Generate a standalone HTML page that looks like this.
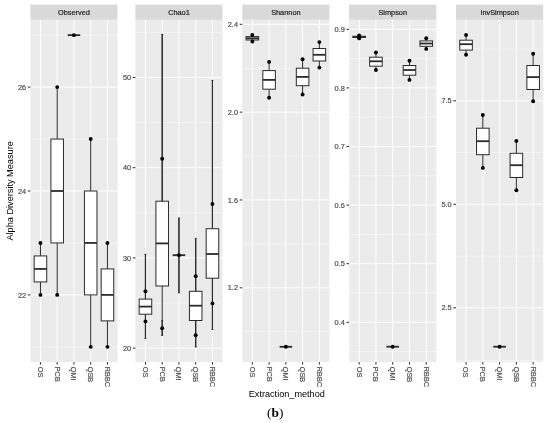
<!DOCTYPE html>
<html lang="en">
<head>
<meta charset="utf-8">
<title>Alpha Diversity Measure by Extraction_method</title>
<style>
html,body{margin:0;padding:0;background:#fff;}
body{width:550px;height:423px;overflow:hidden;}
svg{display:block;}
</style>
</head>
<body>
<svg width="550" height="423" viewBox="0 0 550 423" font-family="'Liberation Sans', Arial, Helvetica, sans-serif">
<rect x="0" y="0" width="550" height="423" fill="#ffffff"/>
<g>
<rect x="30.4" y="4.6" width="87.1" height="15.25" fill="#d9d9d9"/>
<text x="73.95" y="15" font-size="7.35" fill="#1a1a1a" stroke="#1a1a1a" stroke-width="0.18" text-anchor="middle">Observed</text>
<rect x="30.4" y="19.85" width="87.1" height="342.25" fill="#ebebeb"/>
<line x1="30.4" x2="117.5" y1="346.85" y2="346.85" stroke="#fff" stroke-width="0.5"/>
<line x1="30.4" x2="117.5" y1="242.95" y2="242.95" stroke="#fff" stroke-width="0.5"/>
<line x1="30.4" x2="117.5" y1="139.05" y2="139.05" stroke="#fff" stroke-width="0.5"/>
<line x1="30.4" x2="117.5" y1="35.15" y2="35.15" stroke="#fff" stroke-width="0.5"/>
<line x1="30.4" x2="117.5" y1="294.9" y2="294.9" stroke="#fff" stroke-width="1.0"/>
<line x1="30.4" x2="117.5" y1="191" y2="191" stroke="#fff" stroke-width="1.0"/>
<line x1="30.4" x2="117.5" y1="87.1" y2="87.1" stroke="#fff" stroke-width="1.0"/>
<line x1="40.45" x2="40.45" y1="19.85" y2="362.1" stroke="#fff" stroke-width="1.0"/>
<line x1="57.2" x2="57.2" y1="19.85" y2="362.1" stroke="#fff" stroke-width="1.0"/>
<line x1="73.95" x2="73.95" y1="19.85" y2="362.1" stroke="#fff" stroke-width="1.0"/>
<line x1="90.7" x2="90.7" y1="19.85" y2="362.1" stroke="#fff" stroke-width="1.0"/>
<line x1="107.45" x2="107.45" y1="19.85" y2="362.1" stroke="#fff" stroke-width="1.0"/>
<line x1="27.8" x2="30.4" y1="294.9" y2="294.9" stroke="#2b2b2b" stroke-width="1.0"/>
<text x="26.1" y="297.55" font-size="7.35" fill="#4d4d4d" stroke="#4d4d4d" stroke-width="0.18" text-anchor="end">22</text>
<line x1="27.8" x2="30.4" y1="191" y2="191" stroke="#2b2b2b" stroke-width="1.0"/>
<text x="26.1" y="193.65" font-size="7.35" fill="#4d4d4d" stroke="#4d4d4d" stroke-width="0.18" text-anchor="end">24</text>
<line x1="27.8" x2="30.4" y1="87.1" y2="87.1" stroke="#2b2b2b" stroke-width="1.0"/>
<text x="26.1" y="89.75" font-size="7.35" fill="#4d4d4d" stroke="#4d4d4d" stroke-width="0.18" text-anchor="end">26</text>
<line x1="40.45" x2="40.45" y1="362.1" y2="364.6" stroke="#2b2b2b" stroke-width="1.0"/>
<text transform="translate(37.85 366.7) rotate(90)" font-size="7.35" fill="#4d4d4d" stroke="#4d4d4d" stroke-width="0.18">OS</text>
<line x1="57.2" x2="57.2" y1="362.1" y2="364.6" stroke="#2b2b2b" stroke-width="1.0"/>
<text transform="translate(54.6 366.7) rotate(90)" font-size="7.35" fill="#4d4d4d" stroke="#4d4d4d" stroke-width="0.18">PCB</text>
<line x1="73.95" x2="73.95" y1="362.1" y2="364.6" stroke="#2b2b2b" stroke-width="1.0"/>
<text transform="translate(71.35 366.7) rotate(90)" font-size="7.35" fill="#4d4d4d" stroke="#4d4d4d" stroke-width="0.18">QMI</text>
<line x1="90.7" x2="90.7" y1="362.1" y2="364.6" stroke="#2b2b2b" stroke-width="1.0"/>
<text transform="translate(88.1 366.7) rotate(90)" font-size="7.35" fill="#4d4d4d" stroke="#4d4d4d" stroke-width="0.18">QSB</text>
<line x1="107.45" x2="107.45" y1="362.1" y2="364.6" stroke="#2b2b2b" stroke-width="1.0"/>
<text transform="translate(104.85 366.7) rotate(90)" font-size="7.35" fill="#4d4d4d" stroke="#4d4d4d" stroke-width="0.18">RBBC</text>
<line x1="40.45" x2="40.45" y1="242.95" y2="255.94" stroke="#2b2b2b" stroke-width="1.0"/>
<line x1="40.45" x2="40.45" y1="281.91" y2="294.9" stroke="#2b2b2b" stroke-width="1.0"/>
<rect x="34.17" y="255.94" width="12.56" height="25.98" fill="#fff" stroke="#2b2b2b" stroke-width="1.0"/>
<line x1="34.17" x2="46.73" y1="268.93" y2="268.93" stroke="#2b2b2b" stroke-width="1.8"/>
<circle cx="40.45" cy="242.95" r="1.95" fill="#000"/>
<circle cx="40.45" cy="294.9" r="1.95" fill="#000"/>
<line x1="57.2" x2="57.2" y1="87.1" y2="139.05" stroke="#2b2b2b" stroke-width="1.0"/>
<line x1="57.2" x2="57.2" y1="242.95" y2="294.9" stroke="#2b2b2b" stroke-width="1.0"/>
<rect x="50.92" y="139.05" width="12.56" height="103.9" fill="#fff" stroke="#2b2b2b" stroke-width="1.0"/>
<line x1="50.92" x2="63.48" y1="191" y2="191" stroke="#2b2b2b" stroke-width="1.8"/>
<circle cx="57.2" cy="87.1" r="1.95" fill="#000"/>
<circle cx="57.2" cy="294.9" r="1.95" fill="#000"/>
<line x1="67.67" x2="80.23" y1="35.15" y2="35.15" stroke="#2b2b2b" stroke-width="1.8"/>
<circle cx="73.95" cy="35.15" r="1.95" fill="#000"/>
<line x1="90.7" x2="90.7" y1="139.05" y2="191" stroke="#2b2b2b" stroke-width="1.0"/>
<line x1="90.7" x2="90.7" y1="294.9" y2="346.85" stroke="#2b2b2b" stroke-width="1.0"/>
<rect x="84.42" y="191" width="12.56" height="103.9" fill="#fff" stroke="#2b2b2b" stroke-width="1.0"/>
<line x1="84.42" x2="96.98" y1="242.95" y2="242.95" stroke="#2b2b2b" stroke-width="1.8"/>
<circle cx="90.7" cy="139.05" r="1.95" fill="#000"/>
<circle cx="90.7" cy="346.85" r="1.95" fill="#000"/>
<line x1="107.45" x2="107.45" y1="242.95" y2="268.93" stroke="#2b2b2b" stroke-width="1.0"/>
<line x1="107.45" x2="107.45" y1="320.88" y2="346.85" stroke="#2b2b2b" stroke-width="1.0"/>
<rect x="101.17" y="268.93" width="12.56" height="51.95" fill="#fff" stroke="#2b2b2b" stroke-width="1.0"/>
<line x1="101.17" x2="113.73" y1="294.9" y2="294.9" stroke="#2b2b2b" stroke-width="1.8"/>
<circle cx="107.45" cy="242.95" r="1.95" fill="#000"/>
<circle cx="107.45" cy="346.85" r="1.95" fill="#000"/>
</g>
<g>
<rect x="135.4" y="4.6" width="87.1" height="15.25" fill="#d9d9d9"/>
<text x="178.95" y="15" font-size="7.35" fill="#1a1a1a" stroke="#1a1a1a" stroke-width="0.18" text-anchor="middle">Chao1</text>
<rect x="135.4" y="19.85" width="87.1" height="342.25" fill="#ebebeb"/>
<line x1="135.4" x2="222.5" y1="303" y2="303" stroke="#fff" stroke-width="0.5"/>
<line x1="135.4" x2="222.5" y1="212.8" y2="212.8" stroke="#fff" stroke-width="0.5"/>
<line x1="135.4" x2="222.5" y1="122.6" y2="122.6" stroke="#fff" stroke-width="0.5"/>
<line x1="135.4" x2="222.5" y1="32.4" y2="32.4" stroke="#fff" stroke-width="0.5"/>
<line x1="135.4" x2="222.5" y1="348.1" y2="348.1" stroke="#fff" stroke-width="1.0"/>
<line x1="135.4" x2="222.5" y1="257.9" y2="257.9" stroke="#fff" stroke-width="1.0"/>
<line x1="135.4" x2="222.5" y1="167.7" y2="167.7" stroke="#fff" stroke-width="1.0"/>
<line x1="135.4" x2="222.5" y1="77.5" y2="77.5" stroke="#fff" stroke-width="1.0"/>
<line x1="145.45" x2="145.45" y1="19.85" y2="362.1" stroke="#fff" stroke-width="1.0"/>
<line x1="162.2" x2="162.2" y1="19.85" y2="362.1" stroke="#fff" stroke-width="1.0"/>
<line x1="178.95" x2="178.95" y1="19.85" y2="362.1" stroke="#fff" stroke-width="1.0"/>
<line x1="195.7" x2="195.7" y1="19.85" y2="362.1" stroke="#fff" stroke-width="1.0"/>
<line x1="212.45" x2="212.45" y1="19.85" y2="362.1" stroke="#fff" stroke-width="1.0"/>
<line x1="132.8" x2="135.4" y1="348.1" y2="348.1" stroke="#2b2b2b" stroke-width="1.0"/>
<text x="131.1" y="350.75" font-size="7.35" fill="#4d4d4d" stroke="#4d4d4d" stroke-width="0.18" text-anchor="end">20</text>
<line x1="132.8" x2="135.4" y1="257.9" y2="257.9" stroke="#2b2b2b" stroke-width="1.0"/>
<text x="131.1" y="260.55" font-size="7.35" fill="#4d4d4d" stroke="#4d4d4d" stroke-width="0.18" text-anchor="end">30</text>
<line x1="132.8" x2="135.4" y1="167.7" y2="167.7" stroke="#2b2b2b" stroke-width="1.0"/>
<text x="131.1" y="170.35" font-size="7.35" fill="#4d4d4d" stroke="#4d4d4d" stroke-width="0.18" text-anchor="end">40</text>
<line x1="132.8" x2="135.4" y1="77.5" y2="77.5" stroke="#2b2b2b" stroke-width="1.0"/>
<text x="131.1" y="80.15" font-size="7.35" fill="#4d4d4d" stroke="#4d4d4d" stroke-width="0.18" text-anchor="end">50</text>
<line x1="145.45" x2="145.45" y1="362.1" y2="364.6" stroke="#2b2b2b" stroke-width="1.0"/>
<text transform="translate(142.85 366.7) rotate(90)" font-size="7.35" fill="#4d4d4d" stroke="#4d4d4d" stroke-width="0.18">OS</text>
<line x1="162.2" x2="162.2" y1="362.1" y2="364.6" stroke="#2b2b2b" stroke-width="1.0"/>
<text transform="translate(159.6 366.7) rotate(90)" font-size="7.35" fill="#4d4d4d" stroke="#4d4d4d" stroke-width="0.18">PCB</text>
<line x1="178.95" x2="178.95" y1="362.1" y2="364.6" stroke="#2b2b2b" stroke-width="1.0"/>
<text transform="translate(176.35 366.7) rotate(90)" font-size="7.35" fill="#4d4d4d" stroke="#4d4d4d" stroke-width="0.18">QMI</text>
<line x1="195.7" x2="195.7" y1="362.1" y2="364.6" stroke="#2b2b2b" stroke-width="1.0"/>
<text transform="translate(193.1 366.7) rotate(90)" font-size="7.35" fill="#4d4d4d" stroke="#4d4d4d" stroke-width="0.18">QSB</text>
<line x1="212.45" x2="212.45" y1="362.1" y2="364.6" stroke="#2b2b2b" stroke-width="1.0"/>
<text transform="translate(209.85 366.7) rotate(90)" font-size="7.35" fill="#4d4d4d" stroke="#4d4d4d" stroke-width="0.18">RBBC</text>
<line x1="145.45" x2="145.45" y1="254.3" y2="300" stroke="#222" stroke-width="1.15"/>
<line x1="144.55" x2="146.35" y1="254.3" y2="254.3" stroke="#1a1a1a" stroke-width="0.9"/>
<line x1="144.55" x2="146.35" y1="300" y2="300" stroke="#1a1a1a" stroke-width="0.9"/>
<line x1="145.45" x2="145.45" y1="313" y2="338.5" stroke="#222" stroke-width="1.15"/>
<line x1="144.55" x2="146.35" y1="313" y2="313" stroke="#1a1a1a" stroke-width="0.9"/>
<line x1="144.55" x2="146.35" y1="338.5" y2="338.5" stroke="#1a1a1a" stroke-width="0.9"/>
<line x1="162.2" x2="162.2" y1="34.3" y2="203" stroke="#222" stroke-width="1.15"/>
<line x1="161.3" x2="163.1" y1="34.3" y2="34.3" stroke="#1a1a1a" stroke-width="0.9"/>
<line x1="161.3" x2="163.1" y1="203" y2="203" stroke="#1a1a1a" stroke-width="0.9"/>
<line x1="162.2" x2="162.2" y1="320.6" y2="335.4" stroke="#222" stroke-width="1.15"/>
<line x1="161.3" x2="163.1" y1="320.6" y2="320.6" stroke="#1a1a1a" stroke-width="0.9"/>
<line x1="161.3" x2="163.1" y1="335.4" y2="335.4" stroke="#1a1a1a" stroke-width="0.9"/>
<line x1="178.95" x2="178.95" y1="218" y2="292.8" stroke="#222" stroke-width="1.15"/>
<line x1="178.05" x2="179.85" y1="218" y2="218" stroke="#1a1a1a" stroke-width="0.9"/>
<line x1="178.05" x2="179.85" y1="292.8" y2="292.8" stroke="#1a1a1a" stroke-width="0.9"/>
<line x1="195.7" x2="195.7" y1="238.4" y2="292" stroke="#222" stroke-width="1.15"/>
<line x1="194.8" x2="196.6" y1="238.4" y2="238.4" stroke="#1a1a1a" stroke-width="0.9"/>
<line x1="194.8" x2="196.6" y1="292" y2="292" stroke="#1a1a1a" stroke-width="0.9"/>
<line x1="195.7" x2="195.7" y1="320" y2="347" stroke="#222" stroke-width="1.15"/>
<line x1="194.8" x2="196.6" y1="320" y2="320" stroke="#1a1a1a" stroke-width="0.9"/>
<line x1="194.8" x2="196.6" y1="347" y2="347" stroke="#1a1a1a" stroke-width="0.9"/>
<line x1="212.45" x2="212.45" y1="80.4" y2="230" stroke="#222" stroke-width="1.15"/>
<line x1="211.55" x2="213.35" y1="80.4" y2="80.4" stroke="#1a1a1a" stroke-width="0.9"/>
<line x1="211.55" x2="213.35" y1="230" y2="230" stroke="#1a1a1a" stroke-width="0.9"/>
<line x1="212.45" x2="212.45" y1="277" y2="329.5" stroke="#222" stroke-width="1.15"/>
<line x1="211.55" x2="213.35" y1="277" y2="277" stroke="#1a1a1a" stroke-width="0.9"/>
<line x1="211.55" x2="213.35" y1="329.5" y2="329.5" stroke="#1a1a1a" stroke-width="0.9"/>
<line x1="145.45" x2="145.45" y1="254.3" y2="299.1" stroke="#2b2b2b" stroke-width="1.0"/>
<line x1="145.45" x2="145.45" y1="314.2" y2="338.5" stroke="#2b2b2b" stroke-width="1.0"/>
<rect x="139.17" y="299.1" width="12.56" height="15.1" fill="#fff" stroke="#2b2b2b" stroke-width="1.0"/>
<line x1="139.17" x2="151.73" y1="306.6" y2="306.6" stroke="#2b2b2b" stroke-width="1.8"/>
<circle cx="145.45" cy="291.2" r="1.95" fill="#000"/>
<circle cx="145.45" cy="321.4" r="1.95" fill="#000"/>
<line x1="162.2" x2="162.2" y1="34.3" y2="201.2" stroke="#2b2b2b" stroke-width="1.0"/>
<line x1="162.2" x2="162.2" y1="286" y2="335.4" stroke="#2b2b2b" stroke-width="1.0"/>
<rect x="155.92" y="201.2" width="12.56" height="84.8" fill="#fff" stroke="#2b2b2b" stroke-width="1.0"/>
<line x1="155.92" x2="168.48" y1="243.4" y2="243.4" stroke="#2b2b2b" stroke-width="1.8"/>
<circle cx="162.2" cy="158.8" r="1.95" fill="#000"/>
<circle cx="162.2" cy="328.3" r="1.95" fill="#000"/>
<line x1="178.95" x2="178.95" y1="218" y2="255.2" stroke="#2b2b2b" stroke-width="1.0"/>
<line x1="178.95" x2="178.95" y1="255.2" y2="292.8" stroke="#2b2b2b" stroke-width="1.0"/>
<line x1="172.67" x2="185.23" y1="255.2" y2="255.2" stroke="#2b2b2b" stroke-width="1.8"/>
<circle cx="178.95" cy="255.2" r="1.95" fill="#000"/>
<line x1="195.7" x2="195.7" y1="238.4" y2="291.3" stroke="#2b2b2b" stroke-width="1.0"/>
<line x1="195.7" x2="195.7" y1="320.5" y2="347" stroke="#2b2b2b" stroke-width="1.0"/>
<rect x="189.42" y="291.3" width="12.56" height="29.2" fill="#fff" stroke="#2b2b2b" stroke-width="1.0"/>
<line x1="189.42" x2="201.98" y1="305.7" y2="305.7" stroke="#2b2b2b" stroke-width="1.8"/>
<circle cx="195.7" cy="276.3" r="1.95" fill="#000"/>
<circle cx="195.7" cy="335.2" r="1.95" fill="#000"/>
<line x1="212.45" x2="212.45" y1="80.4" y2="228.7" stroke="#2b2b2b" stroke-width="1.0"/>
<line x1="212.45" x2="212.45" y1="278.2" y2="329.5" stroke="#2b2b2b" stroke-width="1.0"/>
<rect x="206.17" y="228.7" width="12.56" height="49.5" fill="#fff" stroke="#2b2b2b" stroke-width="1.0"/>
<line x1="206.17" x2="218.73" y1="254" y2="254" stroke="#2b2b2b" stroke-width="1.8"/>
<circle cx="212.45" cy="204" r="1.95" fill="#000"/>
<circle cx="212.45" cy="303.4" r="1.95" fill="#000"/>
</g>
<g>
<rect x="242.3" y="4.6" width="87.1" height="15.25" fill="#d9d9d9"/>
<text x="285.85" y="15" font-size="7.35" fill="#1a1a1a" stroke="#1a1a1a" stroke-width="0.18" text-anchor="middle">Shannon</text>
<rect x="242.3" y="19.85" width="87.1" height="342.25" fill="#ebebeb"/>
<line x1="242.3" x2="329.4" y1="331.74" y2="331.74" stroke="#fff" stroke-width="0.5"/>
<line x1="242.3" x2="329.4" y1="243.9" y2="243.9" stroke="#fff" stroke-width="0.5"/>
<line x1="242.3" x2="329.4" y1="156.06" y2="156.06" stroke="#fff" stroke-width="0.5"/>
<line x1="242.3" x2="329.4" y1="68.22" y2="68.22" stroke="#fff" stroke-width="0.5"/>
<line x1="242.3" x2="329.4" y1="287.82" y2="287.82" stroke="#fff" stroke-width="1.0"/>
<line x1="242.3" x2="329.4" y1="199.98" y2="199.98" stroke="#fff" stroke-width="1.0"/>
<line x1="242.3" x2="329.4" y1="112.14" y2="112.14" stroke="#fff" stroke-width="1.0"/>
<line x1="242.3" x2="329.4" y1="24.3" y2="24.3" stroke="#fff" stroke-width="1.0"/>
<line x1="252.35" x2="252.35" y1="19.85" y2="362.1" stroke="#fff" stroke-width="1.0"/>
<line x1="269.1" x2="269.1" y1="19.85" y2="362.1" stroke="#fff" stroke-width="1.0"/>
<line x1="285.85" x2="285.85" y1="19.85" y2="362.1" stroke="#fff" stroke-width="1.0"/>
<line x1="302.6" x2="302.6" y1="19.85" y2="362.1" stroke="#fff" stroke-width="1.0"/>
<line x1="319.35" x2="319.35" y1="19.85" y2="362.1" stroke="#fff" stroke-width="1.0"/>
<line x1="239.7" x2="242.3" y1="287.82" y2="287.82" stroke="#2b2b2b" stroke-width="1.0"/>
<text x="238" y="290.47" font-size="7.35" fill="#4d4d4d" stroke="#4d4d4d" stroke-width="0.18" text-anchor="end">1.2</text>
<line x1="239.7" x2="242.3" y1="199.98" y2="199.98" stroke="#2b2b2b" stroke-width="1.0"/>
<text x="238" y="202.63" font-size="7.35" fill="#4d4d4d" stroke="#4d4d4d" stroke-width="0.18" text-anchor="end">1.6</text>
<line x1="239.7" x2="242.3" y1="112.14" y2="112.14" stroke="#2b2b2b" stroke-width="1.0"/>
<text x="238" y="114.79" font-size="7.35" fill="#4d4d4d" stroke="#4d4d4d" stroke-width="0.18" text-anchor="end">2.0</text>
<line x1="239.7" x2="242.3" y1="24.3" y2="24.3" stroke="#2b2b2b" stroke-width="1.0"/>
<text x="238" y="26.95" font-size="7.35" fill="#4d4d4d" stroke="#4d4d4d" stroke-width="0.18" text-anchor="end">2.4</text>
<line x1="252.35" x2="252.35" y1="362.1" y2="364.6" stroke="#2b2b2b" stroke-width="1.0"/>
<text transform="translate(249.75 366.7) rotate(90)" font-size="7.35" fill="#4d4d4d" stroke="#4d4d4d" stroke-width="0.18">OS</text>
<line x1="269.1" x2="269.1" y1="362.1" y2="364.6" stroke="#2b2b2b" stroke-width="1.0"/>
<text transform="translate(266.5 366.7) rotate(90)" font-size="7.35" fill="#4d4d4d" stroke="#4d4d4d" stroke-width="0.18">PCB</text>
<line x1="285.85" x2="285.85" y1="362.1" y2="364.6" stroke="#2b2b2b" stroke-width="1.0"/>
<text transform="translate(283.25 366.7) rotate(90)" font-size="7.35" fill="#4d4d4d" stroke="#4d4d4d" stroke-width="0.18">QMI</text>
<line x1="302.6" x2="302.6" y1="362.1" y2="364.6" stroke="#2b2b2b" stroke-width="1.0"/>
<text transform="translate(300 366.7) rotate(90)" font-size="7.35" fill="#4d4d4d" stroke="#4d4d4d" stroke-width="0.18">QSB</text>
<line x1="319.35" x2="319.35" y1="362.1" y2="364.6" stroke="#2b2b2b" stroke-width="1.0"/>
<text transform="translate(316.75 366.7) rotate(90)" font-size="7.35" fill="#4d4d4d" stroke="#4d4d4d" stroke-width="0.18">RBBC</text>
<line x1="252.35" x2="252.35" y1="35" y2="36.6" stroke="#2b2b2b" stroke-width="1.0"/>
<line x1="252.35" x2="252.35" y1="40" y2="41.5" stroke="#2b2b2b" stroke-width="1.0"/>
<rect x="246.07" y="36.6" width="12.56" height="3.4" fill="#fff" stroke="#2b2b2b" stroke-width="1.0"/>
<line x1="246.07" x2="258.63" y1="38.3" y2="38.3" stroke="#2b2b2b" stroke-width="1.8"/>
<circle cx="252.35" cy="35" r="1.95" fill="#000"/>
<circle cx="252.35" cy="41.5" r="1.95" fill="#000"/>
<line x1="269.1" x2="269.1" y1="61.9" y2="70.6" stroke="#2b2b2b" stroke-width="1.0"/>
<line x1="269.1" x2="269.1" y1="89.2" y2="97.7" stroke="#2b2b2b" stroke-width="1.0"/>
<rect x="262.82" y="70.6" width="12.56" height="18.6" fill="#fff" stroke="#2b2b2b" stroke-width="1.0"/>
<line x1="262.82" x2="275.38" y1="79.9" y2="79.9" stroke="#2b2b2b" stroke-width="1.8"/>
<circle cx="269.1" cy="61.9" r="1.95" fill="#000"/>
<circle cx="269.1" cy="97.7" r="1.95" fill="#000"/>
<line x1="279.57" x2="292.13" y1="346.8" y2="346.8" stroke="#2b2b2b" stroke-width="1.8"/>
<circle cx="285.85" cy="346.8" r="1.95" fill="#000"/>
<line x1="302.6" x2="302.6" y1="59.3" y2="68.2" stroke="#2b2b2b" stroke-width="1.0"/>
<line x1="302.6" x2="302.6" y1="85.7" y2="94.5" stroke="#2b2b2b" stroke-width="1.0"/>
<rect x="296.32" y="68.2" width="12.56" height="17.5" fill="#fff" stroke="#2b2b2b" stroke-width="1.0"/>
<line x1="296.32" x2="308.88" y1="76.9" y2="76.9" stroke="#2b2b2b" stroke-width="1.8"/>
<circle cx="302.6" cy="59.3" r="1.95" fill="#000"/>
<circle cx="302.6" cy="94.5" r="1.95" fill="#000"/>
<line x1="319.35" x2="319.35" y1="42.1" y2="48.5" stroke="#2b2b2b" stroke-width="1.0"/>
<line x1="319.35" x2="319.35" y1="61" y2="67.6" stroke="#2b2b2b" stroke-width="1.0"/>
<rect x="313.07" y="48.5" width="12.56" height="12.5" fill="#fff" stroke="#2b2b2b" stroke-width="1.0"/>
<line x1="313.07" x2="325.63" y1="54.8" y2="54.8" stroke="#2b2b2b" stroke-width="1.8"/>
<circle cx="319.35" cy="42.1" r="1.95" fill="#000"/>
<circle cx="319.35" cy="67.6" r="1.95" fill="#000"/>
</g>
<g>
<rect x="349.1" y="4.6" width="87.2" height="15.25" fill="#d9d9d9"/>
<text x="392.7" y="15" font-size="7.35" fill="#1a1a1a" stroke="#1a1a1a" stroke-width="0.18" text-anchor="middle">Simpson</text>
<rect x="349.1" y="19.85" width="87.2" height="342.25" fill="#ebebeb"/>
<line x1="349.1" x2="436.3" y1="351.6" y2="351.6" stroke="#fff" stroke-width="0.5"/>
<line x1="349.1" x2="436.3" y1="293" y2="293" stroke="#fff" stroke-width="0.5"/>
<line x1="349.1" x2="436.3" y1="234.4" y2="234.4" stroke="#fff" stroke-width="0.5"/>
<line x1="349.1" x2="436.3" y1="175.8" y2="175.8" stroke="#fff" stroke-width="0.5"/>
<line x1="349.1" x2="436.3" y1="117.2" y2="117.2" stroke="#fff" stroke-width="0.5"/>
<line x1="349.1" x2="436.3" y1="58.6" y2="58.6" stroke="#fff" stroke-width="0.5"/>
<line x1="349.1" x2="436.3" y1="322.3" y2="322.3" stroke="#fff" stroke-width="1.0"/>
<line x1="349.1" x2="436.3" y1="263.7" y2="263.7" stroke="#fff" stroke-width="1.0"/>
<line x1="349.1" x2="436.3" y1="205.1" y2="205.1" stroke="#fff" stroke-width="1.0"/>
<line x1="349.1" x2="436.3" y1="146.5" y2="146.5" stroke="#fff" stroke-width="1.0"/>
<line x1="349.1" x2="436.3" y1="87.9" y2="87.9" stroke="#fff" stroke-width="1.0"/>
<line x1="349.1" x2="436.3" y1="29.3" y2="29.3" stroke="#fff" stroke-width="1.0"/>
<line x1="359.16" x2="359.16" y1="19.85" y2="362.1" stroke="#fff" stroke-width="1.0"/>
<line x1="375.93" x2="375.93" y1="19.85" y2="362.1" stroke="#fff" stroke-width="1.0"/>
<line x1="392.7" x2="392.7" y1="19.85" y2="362.1" stroke="#fff" stroke-width="1.0"/>
<line x1="409.47" x2="409.47" y1="19.85" y2="362.1" stroke="#fff" stroke-width="1.0"/>
<line x1="426.24" x2="426.24" y1="19.85" y2="362.1" stroke="#fff" stroke-width="1.0"/>
<line x1="346.5" x2="349.1" y1="322.3" y2="322.3" stroke="#2b2b2b" stroke-width="1.0"/>
<text x="344.8" y="324.95" font-size="7.35" fill="#4d4d4d" stroke="#4d4d4d" stroke-width="0.18" text-anchor="end">0.4</text>
<line x1="346.5" x2="349.1" y1="263.7" y2="263.7" stroke="#2b2b2b" stroke-width="1.0"/>
<text x="344.8" y="266.35" font-size="7.35" fill="#4d4d4d" stroke="#4d4d4d" stroke-width="0.18" text-anchor="end">0.5</text>
<line x1="346.5" x2="349.1" y1="205.1" y2="205.1" stroke="#2b2b2b" stroke-width="1.0"/>
<text x="344.8" y="207.75" font-size="7.35" fill="#4d4d4d" stroke="#4d4d4d" stroke-width="0.18" text-anchor="end">0.6</text>
<line x1="346.5" x2="349.1" y1="146.5" y2="146.5" stroke="#2b2b2b" stroke-width="1.0"/>
<text x="344.8" y="149.15" font-size="7.35" fill="#4d4d4d" stroke="#4d4d4d" stroke-width="0.18" text-anchor="end">0.7</text>
<line x1="346.5" x2="349.1" y1="87.9" y2="87.9" stroke="#2b2b2b" stroke-width="1.0"/>
<text x="344.8" y="90.55" font-size="7.35" fill="#4d4d4d" stroke="#4d4d4d" stroke-width="0.18" text-anchor="end">0.8</text>
<line x1="346.5" x2="349.1" y1="29.3" y2="29.3" stroke="#2b2b2b" stroke-width="1.0"/>
<text x="344.8" y="31.95" font-size="7.35" fill="#4d4d4d" stroke="#4d4d4d" stroke-width="0.18" text-anchor="end">0.9</text>
<line x1="359.16" x2="359.16" y1="362.1" y2="364.6" stroke="#2b2b2b" stroke-width="1.0"/>
<text transform="translate(356.56 366.7) rotate(90)" font-size="7.35" fill="#4d4d4d" stroke="#4d4d4d" stroke-width="0.18">OS</text>
<line x1="375.93" x2="375.93" y1="362.1" y2="364.6" stroke="#2b2b2b" stroke-width="1.0"/>
<text transform="translate(373.33 366.7) rotate(90)" font-size="7.35" fill="#4d4d4d" stroke="#4d4d4d" stroke-width="0.18">PCB</text>
<line x1="392.7" x2="392.7" y1="362.1" y2="364.6" stroke="#2b2b2b" stroke-width="1.0"/>
<text transform="translate(390.1 366.7) rotate(90)" font-size="7.35" fill="#4d4d4d" stroke="#4d4d4d" stroke-width="0.18">QMI</text>
<line x1="409.47" x2="409.47" y1="362.1" y2="364.6" stroke="#2b2b2b" stroke-width="1.0"/>
<text transform="translate(406.87 366.7) rotate(90)" font-size="7.35" fill="#4d4d4d" stroke="#4d4d4d" stroke-width="0.18">QSB</text>
<line x1="426.24" x2="426.24" y1="362.1" y2="364.6" stroke="#2b2b2b" stroke-width="1.0"/>
<text transform="translate(423.64 366.7) rotate(90)" font-size="7.35" fill="#4d4d4d" stroke="#4d4d4d" stroke-width="0.18">RBBC</text>
<line x1="359.16" x2="359.16" y1="35.4" y2="36.3" stroke="#2b2b2b" stroke-width="1.0"/>
<line x1="359.16" x2="359.16" y1="37.5" y2="38.4" stroke="#2b2b2b" stroke-width="1.0"/>
<rect x="352.87" y="36.3" width="12.58" height="1.2" fill="#fff" stroke="#2b2b2b" stroke-width="1.0"/>
<line x1="352.87" x2="365.45" y1="36.9" y2="36.9" stroke="#2b2b2b" stroke-width="1.8"/>
<circle cx="359.16" cy="35.4" r="1.95" fill="#000"/>
<circle cx="359.16" cy="38.4" r="1.95" fill="#000"/>
<line x1="375.93" x2="375.93" y1="52.5" y2="57.2" stroke="#2b2b2b" stroke-width="1.0"/>
<line x1="375.93" x2="375.93" y1="66.2" y2="70" stroke="#2b2b2b" stroke-width="1.0"/>
<rect x="369.64" y="57.2" width="12.58" height="9" fill="#fff" stroke="#2b2b2b" stroke-width="1.0"/>
<line x1="369.64" x2="382.22" y1="61.3" y2="61.3" stroke="#2b2b2b" stroke-width="1.8"/>
<circle cx="375.93" cy="52.5" r="1.95" fill="#000"/>
<circle cx="375.93" cy="70" r="1.95" fill="#000"/>
<line x1="386.41" x2="398.99" y1="346.7" y2="346.7" stroke="#2b2b2b" stroke-width="1.8"/>
<circle cx="392.7" cy="346.7" r="1.95" fill="#000"/>
<line x1="409.47" x2="409.47" y1="60.8" y2="65.5" stroke="#2b2b2b" stroke-width="1.0"/>
<line x1="409.47" x2="409.47" y1="75.2" y2="79.9" stroke="#2b2b2b" stroke-width="1.0"/>
<rect x="403.18" y="65.5" width="12.58" height="9.7" fill="#fff" stroke="#2b2b2b" stroke-width="1.0"/>
<line x1="403.18" x2="415.76" y1="70" y2="70" stroke="#2b2b2b" stroke-width="1.8"/>
<circle cx="409.47" cy="60.8" r="1.95" fill="#000"/>
<circle cx="409.47" cy="79.9" r="1.95" fill="#000"/>
<line x1="426.24" x2="426.24" y1="38.3" y2="40.9" stroke="#2b2b2b" stroke-width="1.0"/>
<line x1="426.24" x2="426.24" y1="46.3" y2="48.9" stroke="#2b2b2b" stroke-width="1.0"/>
<rect x="419.95" y="40.9" width="12.58" height="5.4" fill="#fff" stroke="#2b2b2b" stroke-width="1.0"/>
<line x1="419.95" x2="432.53" y1="43.5" y2="43.5" stroke="#2b2b2b" stroke-width="1.8"/>
<circle cx="426.24" cy="38.3" r="1.95" fill="#000"/>
<circle cx="426.24" cy="48.9" r="1.95" fill="#000"/>
</g>
<g>
<rect x="456" y="4.6" width="87.2" height="15.25" fill="#d9d9d9"/>
<text x="499.6" y="15" font-size="7.35" fill="#1a1a1a" stroke="#1a1a1a" stroke-width="0.18" text-anchor="middle">InvSimpson</text>
<rect x="456" y="19.85" width="87.2" height="342.25" fill="#ebebeb"/>
<line x1="456" x2="543.2" y1="360.7" y2="360.7" stroke="#fff" stroke-width="0.5"/>
<line x1="456" x2="543.2" y1="256.05" y2="256.05" stroke="#fff" stroke-width="0.5"/>
<line x1="456" x2="543.2" y1="152.55" y2="152.55" stroke="#fff" stroke-width="0.5"/>
<line x1="456" x2="543.2" y1="49.05" y2="49.05" stroke="#fff" stroke-width="0.5"/>
<line x1="456" x2="543.2" y1="307.8" y2="307.8" stroke="#fff" stroke-width="1.0"/>
<line x1="456" x2="543.2" y1="204.3" y2="204.3" stroke="#fff" stroke-width="1.0"/>
<line x1="456" x2="543.2" y1="100.8" y2="100.8" stroke="#fff" stroke-width="1.0"/>
<line x1="466.06" x2="466.06" y1="19.85" y2="362.1" stroke="#fff" stroke-width="1.0"/>
<line x1="482.83" x2="482.83" y1="19.85" y2="362.1" stroke="#fff" stroke-width="1.0"/>
<line x1="499.6" x2="499.6" y1="19.85" y2="362.1" stroke="#fff" stroke-width="1.0"/>
<line x1="516.37" x2="516.37" y1="19.85" y2="362.1" stroke="#fff" stroke-width="1.0"/>
<line x1="533.14" x2="533.14" y1="19.85" y2="362.1" stroke="#fff" stroke-width="1.0"/>
<line x1="453.4" x2="456" y1="307.8" y2="307.8" stroke="#2b2b2b" stroke-width="1.0"/>
<text x="451.7" y="310.45" font-size="7.35" fill="#4d4d4d" stroke="#4d4d4d" stroke-width="0.18" text-anchor="end">2.5</text>
<line x1="453.4" x2="456" y1="204.3" y2="204.3" stroke="#2b2b2b" stroke-width="1.0"/>
<text x="451.7" y="206.95" font-size="7.35" fill="#4d4d4d" stroke="#4d4d4d" stroke-width="0.18" text-anchor="end">5.0</text>
<line x1="453.4" x2="456" y1="100.8" y2="100.8" stroke="#2b2b2b" stroke-width="1.0"/>
<text x="451.7" y="103.45" font-size="7.35" fill="#4d4d4d" stroke="#4d4d4d" stroke-width="0.18" text-anchor="end">7.5</text>
<line x1="466.06" x2="466.06" y1="362.1" y2="364.6" stroke="#2b2b2b" stroke-width="1.0"/>
<text transform="translate(463.46 366.7) rotate(90)" font-size="7.35" fill="#4d4d4d" stroke="#4d4d4d" stroke-width="0.18">OS</text>
<line x1="482.83" x2="482.83" y1="362.1" y2="364.6" stroke="#2b2b2b" stroke-width="1.0"/>
<text transform="translate(480.23 366.7) rotate(90)" font-size="7.35" fill="#4d4d4d" stroke="#4d4d4d" stroke-width="0.18">PCB</text>
<line x1="499.6" x2="499.6" y1="362.1" y2="364.6" stroke="#2b2b2b" stroke-width="1.0"/>
<text transform="translate(497 366.7) rotate(90)" font-size="7.35" fill="#4d4d4d" stroke="#4d4d4d" stroke-width="0.18">QMI</text>
<line x1="516.37" x2="516.37" y1="362.1" y2="364.6" stroke="#2b2b2b" stroke-width="1.0"/>
<text transform="translate(513.77 366.7) rotate(90)" font-size="7.35" fill="#4d4d4d" stroke="#4d4d4d" stroke-width="0.18">QSB</text>
<line x1="533.14" x2="533.14" y1="362.1" y2="364.6" stroke="#2b2b2b" stroke-width="1.0"/>
<text transform="translate(530.54 366.7) rotate(90)" font-size="7.35" fill="#4d4d4d" stroke="#4d4d4d" stroke-width="0.18">RBBC</text>
<line x1="466.06" x2="466.06" y1="35" y2="40.2" stroke="#2b2b2b" stroke-width="1.0"/>
<line x1="466.06" x2="466.06" y1="50.1" y2="54.8" stroke="#2b2b2b" stroke-width="1.0"/>
<rect x="459.77" y="40.2" width="12.58" height="9.9" fill="#fff" stroke="#2b2b2b" stroke-width="1.0"/>
<line x1="459.77" x2="472.35" y1="44.2" y2="44.2" stroke="#2b2b2b" stroke-width="1.8"/>
<circle cx="466.06" cy="35" r="1.95" fill="#000"/>
<circle cx="466.06" cy="54.8" r="1.95" fill="#000"/>
<line x1="482.83" x2="482.83" y1="115" y2="128.2" stroke="#2b2b2b" stroke-width="1.0"/>
<line x1="482.83" x2="482.83" y1="154.7" y2="167.9" stroke="#2b2b2b" stroke-width="1.0"/>
<rect x="476.54" y="128.2" width="12.58" height="26.5" fill="#fff" stroke="#2b2b2b" stroke-width="1.0"/>
<line x1="476.54" x2="489.12" y1="141.2" y2="141.2" stroke="#2b2b2b" stroke-width="1.8"/>
<circle cx="482.83" cy="115" r="1.95" fill="#000"/>
<circle cx="482.83" cy="167.9" r="1.95" fill="#000"/>
<line x1="493.31" x2="505.89" y1="346.7" y2="346.7" stroke="#2b2b2b" stroke-width="1.8"/>
<circle cx="499.6" cy="346.7" r="1.95" fill="#000"/>
<line x1="516.37" x2="516.37" y1="141" y2="153.3" stroke="#2b2b2b" stroke-width="1.0"/>
<line x1="516.37" x2="516.37" y1="177.5" y2="190.2" stroke="#2b2b2b" stroke-width="1.0"/>
<rect x="510.08" y="153.3" width="12.58" height="24.2" fill="#fff" stroke="#2b2b2b" stroke-width="1.0"/>
<line x1="510.08" x2="522.66" y1="165.2" y2="165.2" stroke="#2b2b2b" stroke-width="1.8"/>
<circle cx="516.37" cy="141" r="1.95" fill="#000"/>
<circle cx="516.37" cy="190.2" r="1.95" fill="#000"/>
<line x1="533.14" x2="533.14" y1="53.7" y2="65.5" stroke="#2b2b2b" stroke-width="1.0"/>
<line x1="533.14" x2="533.14" y1="89.5" y2="101.3" stroke="#2b2b2b" stroke-width="1.0"/>
<rect x="526.85" y="65.5" width="12.58" height="24" fill="#fff" stroke="#2b2b2b" stroke-width="1.0"/>
<line x1="526.85" x2="539.43" y1="77.1" y2="77.1" stroke="#2b2b2b" stroke-width="1.8"/>
<circle cx="533.14" cy="53.7" r="1.95" fill="#000"/>
<circle cx="533.14" cy="101.3" r="1.95" fill="#000"/>
</g>
<text x="286.8" y="397.2" font-size="9.15" fill="#000" text-anchor="middle">Extraction_method</text>
<text transform="translate(13.1 190.9) rotate(-90)" font-size="9.18" fill="#000" text-anchor="middle">Alpha Diversity Measure</text>
<text x="275.2" y="416.9" font-size="13.4" fill="#000" text-anchor="middle" font-family="'Liberation Serif', 'Times New Roman', serif">(<tspan font-weight="bold">b</tspan>)</text>
</svg>
</body>
</html>
